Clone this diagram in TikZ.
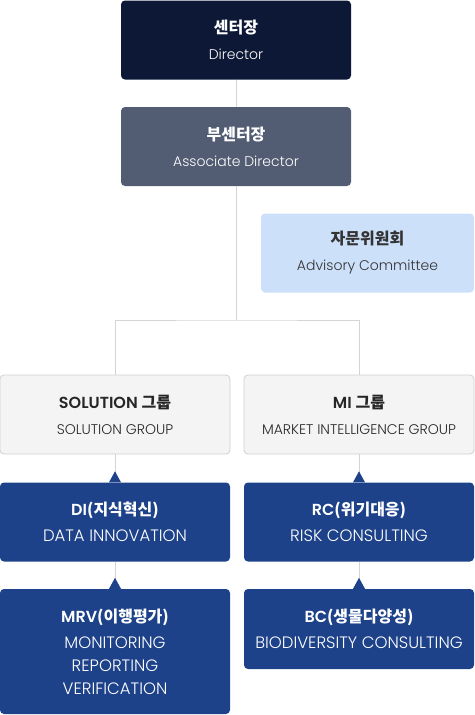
\documentclass[tikz,border=0pt]{standalone}
\usepackage{fontspec}
\setmainfont{Poppins Light}[BoldFont={Poppins SemiBold}]
\newfontfamily\kr{Noto Sans CJK KR}
\usepackage{xcolor}
\definecolor{dircol}{HTML}{0C1835}
\definecolor{assoccol}{HTML}{525C72}
\definecolor{advcol}{HTML}{CDE0FA}
\definecolor{grpcol}{HTML}{F4F4F4}
\definecolor{grpline}{HTML}{D0D0D0}
\definecolor{teamcol}{HTML}{1D4289}
\definecolor{linkcol}{HTML}{D4D4D4}
\tikzset{
	box/.style={rectangle, rounded corners=4pt, minimum width=230pt, minimum height=79pt,
		inner sep=0pt, align=center, font=\fontsize{14}{26}\selectfont},
	grpbox/.style={box, fill=grpcol, draw=grpline, line width=0.8pt, text=black!85},
	teambox/.style={box, fill=teamcol, text=white, font=\fontsize{16.5}{26}\selectfont},
	link/.style={draw=linkcol, line width=1pt}
}
\newcommand{\ttl}[1]{{\fontsize{16}{26}\selectfont\bfseries #1}}
\begin{document}
\begin{tikzpicture}[x=1pt,y=-1pt]
			\useasboundingbox (0,0) rectangle (474,715);
			% 센터장, 부센터장, 자문위원회
			\node[box, fill=dircol, text=white] (dir) at (236,40) {\ttl{\kr 센터장}\\Director};
			\node[box, fill=assoccol, text=white] (assoc) at (236,146.5) {\ttl{\kr 부센터장}\\Associate Director};
			\node[box, fill=advcol, text=black!80, minimum width=213pt] (adv) at (367.5,253) {\ttl{\kr 자문위원회}\\Advisory Committee};
			% 그룹
			\node[grpbox] (sol) at (115,414.5) {\ttl{SOLUTION {\kr 그룹}}\\SOLUTION GROUP};
			\node[grpbox] (mi) at (359,414.5) {\ttl{MI {\kr 그룹}}\\MARKET INTELLIGENCE GROUP};
			% 팀
			\node[teambox] (di) at (115,522) {\ttl{DI{\kr (지식혁신)}}\\DATA INNOVATION};
			\node[teambox] (rc) at (359,522) {\ttl{RC{\kr (위기대응)}}\\RISK CONSULTING};
			\node[teambox, minimum height=125pt, font=\fontsize{16.5}{23}\selectfont] (mrv) at (115,651.5)
				{\ttl{MRV{\kr (이행평가)}}\\[3pt]MONITORING\\REPORTING\\VERIFICATION};
			\node[teambox, minimum height=80pt] (bc) at (359,629) {\ttl{BC{\kr (생물다양성)}}\\BIODIVERSITY CONSULTING};
			% 연결선
			\coordinate (split) at (236,320);
			\draw[link] (dir.south) -- (assoc.north);
			\draw[link] (assoc.south) -- (split);
			\draw[link] (sol.north) |- (split) -| (mi.north);
			\foreach \a/\b in {sol/di, di/mrv, mi/rc, rc/bc}
			\draw[link] (\a.south) -- (\b.north);
			% 삼각형
			\foreach \b in {di, mrv, rc, bc}
			\fill[teamcol] ([xshift=-6pt]\b.north) -- ([yshift=11pt]\b.north) -- ([xshift=6pt]\b.north) -- cycle;
		\end{tikzpicture}
\end{document}
